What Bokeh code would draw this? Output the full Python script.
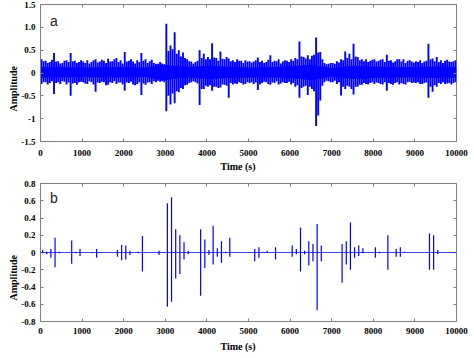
import math
from bokeh.plotting import figure
from bokeh.models import ColumnDataSource, FixedTicker, LinearAxis, Label, Range1d, Span, Title
from bokeh.layouts import column
from bokeh.embed import file_html
from bokeh.resources import INLINE

# ---- data ----
# extreme values of the signal in each 100-s bin (bin start times);
# *_hi / *_lo: first half of the bin, *_hi2 / *_lo2: second half (signal a only)
bin_start = list(range(0, 10000, 100))

a_hi = [0.30, 0.27, 0.24, 0.44, 0.26, 0.22, 0.28, 0.44, 0.27, 0.24,
        0.25, 0.28, 0.24, 0.30, 0.25, 0.27, 0.31, 0.26, 0.33, 0.28,
        0.46, 0.27, 0.25, 0.28, 0.44, 0.30, 0.26, 0.22, 0.20, 0.21,
        1.08, 0.60, 0.89, 0.50, 0.45, 0.30, 0.25, 0.24, 0.50, 0.42,
        0.35, 0.65, 0.33, 0.47, 0.30, 0.32, 0.28, 0.30, 0.27, 0.28,
        0.26, 0.25, 0.34, 0.27, 0.24, 0.39, 0.27, 0.30, 0.25, 0.27,
        0.30, 0.33, 0.69, 0.35, 0.39, 0.38, 0.78, 0.46, 0.22, 0.20,
        0.22, 0.26, 0.30, 0.47, 0.42, 0.64, 0.35, 0.30, 0.30, 0.27,
        0.30, 0.27, 0.30, 0.40, 0.28, 0.26, 0.30, 0.30, 0.27, 0.25,
        0.26, 0.28, 0.25, 0.64, 0.32, 0.35, 0.28, 0.27, 0.25, 0.26]
a_lo = [-0.24, -0.20, -0.22, -0.46, -0.20, -0.18, -0.25, -0.50, -0.22, -0.20,
        -0.20, -0.24, -0.20, -0.41, -0.22, -0.20, -0.26, -0.22, -0.24, -0.21,
        -0.39, -0.22, -0.25, -0.24, -0.48, -0.26, -0.20, -0.18, -0.17, -0.18,
        -0.84, -0.69, -0.66, -0.42, -0.35, -0.26, -0.20, -0.20, -0.70, -0.35,
        -0.30, -0.39, -0.30, -0.32, -0.26, -0.54, -0.25, -0.24, -0.22, -0.24,
        -0.22, -0.24, -0.37, -0.22, -0.20, -0.26, -0.22, -0.25, -0.20, -0.22,
        -0.25, -0.30, -0.54, -0.30, -0.48, -0.35, -1.16, -0.60, -0.20, -0.18,
        -0.20, -0.24, -0.49, -0.35, -0.30, -0.47, -0.30, -0.26, -0.24, -0.22,
        -0.24, -0.22, -0.25, -0.39, -0.24, -0.22, -0.25, -0.24, -0.20, -0.22,
        -0.22, -0.24, -0.22, -0.54, -0.41, -0.30, -0.24, -0.24, -0.22, -0.22]
a_hi2 = [0.26, 0.22, 0.29, 0.25, 0.21, 0.27, 0.24, 0.26, 0.22, 0.28,
         0.22, 0.21, 0.28, 0.23, 0.29, 0.22, 0.25, 0.30, 0.24, 0.21,
         0.25, 0.30, 0.21, 0.24, 0.27, 0.22, 0.29, 0.20, 0.24, 0.19,
         0.48, 0.52, 0.42, 0.36, 0.33, 0.26, 0.21, 0.27, 0.33, 0.30,
         0.30, 0.34, 0.27, 0.31, 0.35, 0.26, 0.24, 0.27, 0.22, 0.25,
         0.23, 0.28, 0.24, 0.22, 0.29, 0.24, 0.26, 0.21, 0.28, 0.24,
         0.27, 0.30, 0.36, 0.32, 0.30, 0.40, 0.45, 0.30, 0.19, 0.22,
         0.20, 0.23, 0.28, 0.33, 0.30, 0.36, 0.28, 0.26, 0.24, 0.29,
         0.25, 0.29, 0.24, 0.27, 0.23, 0.30, 0.25, 0.22, 0.28, 0.23,
         0.24, 0.22, 0.27, 0.30, 0.26, 0.24, 0.22, 0.29, 0.24, 0.28]
a_lo2 = [-0.20, -0.25, -0.18, -0.22, -0.24, -0.19, -0.21, -0.23, -0.26, -0.19,
         -0.23, -0.18, -0.25, -0.21, -0.19, -0.27, -0.20, -0.18, -0.21, -0.25,
         -0.21, -0.19, -0.27, -0.20, -0.23, -0.21, -0.24, -0.20, -0.19, -0.20,
         -0.50, -0.45, -0.40, -0.33, -0.27, -0.22, -0.18, -0.23, -0.35, -0.28,
         -0.27, -0.30, -0.33, -0.25, -0.28, -0.22, -0.23, -0.20, -0.25, -0.20,
         -0.20, -0.21, -0.25, -0.19, -0.24, -0.21, -0.18, -0.23, -0.22, -0.19,
         -0.22, -0.27, -0.33, -0.28, -0.30, -0.40, -0.93, -0.28, -0.17, -0.20,
         -0.17, -0.20, -0.30, -0.28, -0.35, -0.30, -0.26, -0.22, -0.25, -0.20,
         -0.21, -0.24, -0.20, -0.22, -0.26, -0.20, -0.22, -0.25, -0.19, -0.21,
         -0.20, -0.24, -0.21, -0.30, -0.27, -0.22, -0.20, -0.23, -0.25, -0.20]

# dense (dark) core of signal a, every 500 s
core_t = [0, 500, 1000, 1500, 2000, 2500, 3000, 3500, 4000, 4500, 5000,
          5500, 6000, 6500, 7000, 7500, 8000, 8500, 9000, 9500, 10000]
core_hi = [0.13, 0.13, 0.12, 0.13, 0.13, 0.12, 0.18, 0.13, 0.16, 0.14, 0.12,
           0.13, 0.14, 0.18, 0.11, 0.16, 0.14, 0.13, 0.13, 0.14, 0.13]
core_lo = [-0.10, -0.10, -0.09, -0.10, -0.10, -0.09, -0.16, -0.10, -0.13, -0.11, -0.10,
           -0.10, -0.11, -0.16, -0.08, -0.13, -0.11, -0.10, -0.10, -0.11, -0.10]

b_hi = [0.03, 0.01, 0.04, 0.17, 0.01, 0.00, 0.00, 0.14, 0.01, 0.04,
        0.00, 0.00, 0.00, 0.04, 0.00, 0.00, 0.00, 0.00, 0.03, 0.09,
        0.08, 0.02, 0.00, 0.01, 0.19, 0.00, 0.00, 0.00, 0.02, 0.00,
        0.57, 0.64, 0.27, 0.20, 0.12, 0.02, 0.00, 0.00, 0.27, 0.15,
        0.03, 0.31, 0.05, 0.13, 0.01, 0.17, 0.00, 0.00, 0.00, 0.00,
        0.00, 0.04, 0.06, 0.01, 0.02, 0.00, 0.06, 0.00, 0.00, 0.00,
        0.08, 0.04, 0.29, 0.02, 0.13, 0.10, 0.33, 0.08, 0.00, 0.00,
        0.00, 0.00, 0.10, 0.13, 0.35, 0.06, 0.08, 0.05, 0.00, 0.00,
        0.06, 0.01, 0.00, 0.20, 0.00, 0.04, 0.06, 0.01, 0.00, 0.00,
        0.00, 0.00, 0.00, 0.22, 0.20, 0.03, 0.00, 0.00, 0.00, 0.00]
b_lo = [-0.01, -0.02, -0.06, -0.17, -0.01, 0.00, 0.00, -0.13, -0.01, -0.04,
        0.00, 0.00, -0.01, -0.06, 0.00, 0.00, 0.00, 0.00, -0.05, -0.09,
        -0.08, -0.03, 0.00, -0.01, -0.22, 0.00, 0.00, 0.00, -0.03, 0.00,
        -0.63, -0.57, -0.30, -0.25, -0.08, -0.02, 0.00, 0.00, -0.50, -0.18,
        -0.03, -0.14, -0.05, -0.12, -0.01, -0.05, 0.00, 0.00, 0.00, 0.00,
        0.00, -0.10, -0.06, 0.00, 0.00, 0.00, -0.08, 0.00, 0.00, 0.00,
        -0.05, -0.02, -0.22, -0.02, -0.15, -0.10, -0.67, -0.10, 0.00, 0.00,
        0.00, 0.00, -0.35, -0.14, -0.20, -0.06, -0.04, -0.01, 0.00, 0.00,
        -0.06, -0.01, 0.00, -0.20, 0.00, -0.05, -0.05, 0.00, 0.00, 0.00,
        0.00, 0.00, 0.00, -0.20, -0.20, -0.02, 0.00, 0.00, 0.00, 0.00]

x_ticks = [0, 1000, 2000, 3000, 4000, 5000, 6000, 7000, 8000, 9000, 10000]
x_labels = ["0", "1000", "2000", "3000", "4000", "5000", "6000", "7000", "8000", "9000", "10000"]
a_yticks = [-1.5, -1.0, -0.5, 0.0, 0.5, 1.0, 1.5]
a_ylabels = ["-1.5", "-1", "-0.5", "0", "0.5", "1.0", "1.5"]
b_yticks = [-0.8, -0.6, -0.4, -0.2, 0.0, 0.2, 0.4, 0.6, 0.8]
b_ylabels = ["-0.8", "-0.6", "-0.4", "-0.2", "0", "0.2", "0.4", "0.6", "0.8"]

SERIF = "Liberation Serif"
GRAY = "#808080"
BLUE = "#0000ff"


def make_panel(height, top, bottom, yr, yticks, ylabels, x_standoff,
               letter, letter_y, amp_offset, time_standoff):
    p = figure(width=474, height=height, x_range=Range1d(0, 10000),
               y_range=Range1d(*yr), output_backend="svg", toolbar_location=None,
               min_border_left=40, min_border_right=18,
               min_border_top=top, min_border_bottom=bottom)
    p.grid.visible = False
    p.outline_line_color = GRAY
    p.outline_line_width = 1
    p.background_fill_color = "white"
    p.border_fill_color = "white"

    xa = p.xaxis[0]
    xa.ticker = FixedTicker(ticks=x_ticks)
    xa.major_label_overrides = dict(zip(x_ticks, x_labels))
    ya = p.yaxis[0]
    ya.ticker = FixedTicker(ticks=yticks)
    ya.major_label_overrides = dict(zip(yticks, ylabels))
    for ax in (xa, ya):
        ax.axis_line_color = GRAY
        ax.major_tick_line_color = GRAY
        ax.major_tick_in = 3
        ax.major_tick_out = 0
        ax.minor_tick_line_color = None
        ax.major_label_text_font = SERIF
        ax.major_label_text_font_style = "bold"
        ax.major_label_text_font_size = "9px"
        ax.major_label_text_color = "black"
    xa.major_label_standoff = x_standoff
    ya.major_label_standoff = 5

    for loc, tk in (("above", x_ticks), ("right", yticks)):
        ax = LinearAxis(ticker=FixedTicker(ticks=tk), axis_line_color=None,
                        major_tick_line_color=GRAY, major_tick_in=3, major_tick_out=0,
                        minor_tick_line_color=None, major_label_text_font_size="1px",
                        major_label_overrides={t: "" for t in tk},
                        major_label_standoff=0)
        p.add_layout(ax, loc)

    p.add_layout(Title(text="Amplitude", align="left", offset=amp_offset,
                       text_font=SERIF, text_font_style="bold", text_font_size="10px",
                       text_color="black", standoff=0), "left")
    p.add_layout(Title(text="Time (s)", align="left", offset=180,
                       text_font=SERIF, text_font_style="bold", text_font_size="10px",
                       text_color="black", standoff=time_standoff), "below")

    p.add_layout(Label(x=230, y=letter_y, text=letter, text_font="Liberation Sans",
                       text_font_size="14px", text_color="#222222",
                       text_align="left", text_baseline="middle"))
    return p


pa = make_panel(175, 4, 34, (-1.5, 1.5), a_yticks, a_ylabels, 8, "a", 1.14, 30, 0)
seg_a = ColumnDataSource(dict(
    x=[t + 25 for t in bin_start] + [t + 75 for t in bin_start],
    lo=a_lo + a_lo2, hi=a_hi + a_hi2))
pa.varea(x=core_t, y1=core_lo, y2=core_hi, fill_color=BLUE, fill_alpha=1.0)
pa.segment(x0="x", y0="lo", x1="x", y1="hi", source=seg_a,
           line_color=BLUE, line_width=1.9, line_alpha=1.0)

pb = make_panel(183, 8, 37, (-0.8, 0.8), b_yticks, b_ylabels, 6, "b", 0.63, 21, 4)
seg_b = ColumnDataSource(dict(x=[t + 50 for t in bin_start], lo=b_lo, hi=b_hi))
pb.add_layout(Span(location=0, dimension="width", line_color=BLUE, line_width=1, line_alpha=0.75))
pb.segment(x0="x", y0="lo", x1="x", y1="hi", source=seg_b,
           line_color=BLUE, line_width=1.2)

layout = column(pa, pb, spacing=0)
open("out.html", "w").write(file_html(layout, INLINE))
